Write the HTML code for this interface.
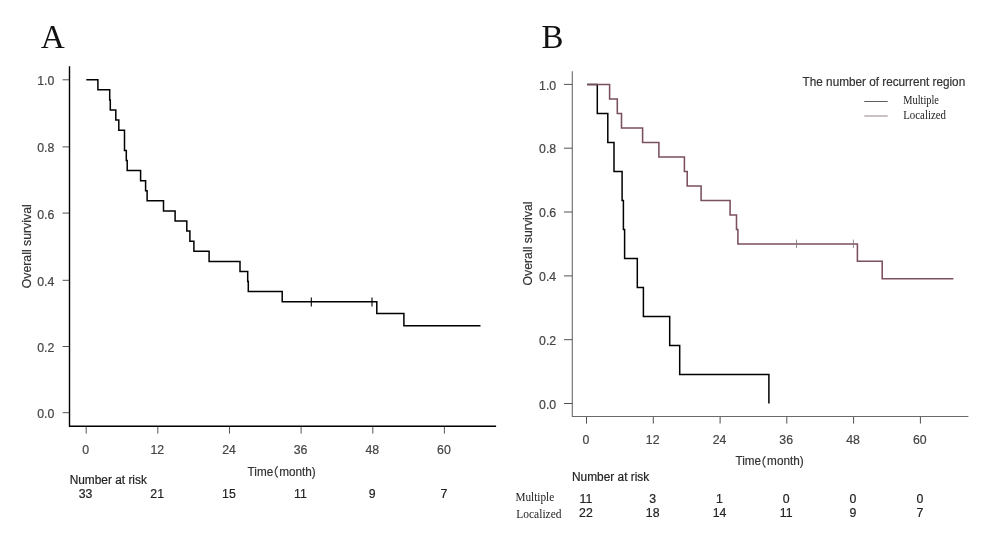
<!DOCTYPE html>
<html lang="en"><head><meta charset="utf-8"><title>Overall survival</title>
<style>
html,body{margin:0;padding:0;background:#fff;}
body{width:986px;height:555px;overflow:hidden;}
svg{display:block;}
.s{font-family:"Liberation Sans",Arial,sans-serif;font-size:12.3px;}
.t{font-family:"Liberation Serif","Times New Roman",serif;}
.g{fill:#444;stroke:#444;stroke-width:0.2px;}
.d{fill:#222;stroke:#222;stroke-width:0.2px;}
.c{font-family:"Liberation Sans","Noto Sans CJK SC",sans-serif;}
.a{fill:#333;stroke:#333;stroke-width:0.2px;}
.m{text-anchor:middle;}
.e{text-anchor:end;}
</style></head><body>
<svg width="986" height="555" viewBox="0 0 986 555">
<rect width="986" height="555" fill="#fff"/>
<text class="t" transform="translate(40.8,48.4) scale(0.965,0.99)" font-size="34.5" fill="#111">A</text>
<g stroke="#555" stroke-width="1" fill="none">
<path d="M62.6,412.7H69.5"/>
<path d="M62.6,346.5H69.5"/>
<path d="M62.6,280.3H69.5"/>
<path d="M62.6,213.1H69.5"/>
<path d="M62.6,146.9H69.5"/>
<path d="M62.6,79.8H69.5"/>
<path d="M86.2,426.2V433.6"/>
<path d="M157.8,426.2V433.6"/>
<path d="M229.5,426.2V433.6"/>
<path d="M301.1,426.2V433.6"/>
<path d="M372.8,426.2V433.6"/>
<path d="M444.4,426.2V433.6"/>
</g>
<path d="M69.5,66.2V426.2H496.1" fill="none" stroke="#000" stroke-width="1.4"/>
<g class="s g e">
<text x="54.4" y="418.2">0.0</text>
<text x="54.4" y="352.0">0.2</text>
<text x="54.4" y="285.8">0.4</text>
<text x="54.4" y="218.6">0.6</text>
<text x="54.4" y="152.4">0.8</text>
<text x="54.4" y="85.3">1.0</text>
</g>
<g class="s g m">
<text x="85.7" y="453.8">0</text>
<text x="157.3" y="453.8">12</text>
<text x="229.0" y="453.8">24</text>
<text x="300.6" y="453.8">36</text>
<text x="372.3" y="453.8">48</text>
<text x="443.9" y="453.8">60</text>
</g>
<text class="s m a" transform="translate(30.6,246.3) rotate(-90)">Overall survival</text>
<text class="c a" font-size="12.3" y="475.6"><tspan x="247.6" textLength="25.6" lengthAdjust="spacingAndGlyphs">Time</tspan><tspan x="266.2" dy="1.6">（</tspan><tspan x="279.2" dy="-1.6" textLength="36.6" lengthAdjust="spacingAndGlyphs">month)</tspan></text>
<path d="M86.3,79.8H97.9V89.8H109.7V99.9H110.3V110.0H115.8V120.1H118.8V130.2H124.5V150.4H126.3V160.5H127.2V170.6H140.6V180.7H145.6V190.7H147.1V200.8H163.5V210.9H175.1V221.0H186.8V231.1H189.9V241.2H193.9V251.3H209.1V261.4H240V271.5H247.7V281.6H248.3V291.6H282.2V301.7H376.8V313.5H403.9V325.8H480.5" fill="none" stroke="#000" stroke-width="1.5"/>
<path d="M311.3,297.5V306.5M372,297.5V306.5" fill="none" stroke="#000" stroke-width="1.1"/>
<text class="s d" x="69.7" y="483.5" textLength="77.2" lengthAdjust="spacingAndGlyphs">Number at risk</text>
<g class="s d m">
<text x="85.6" y="497.8">33</text>
<text x="157.2" y="497.8">21</text>
<text x="228.9" y="497.8">15</text>
<text x="300.5" y="497.8">11</text>
<text x="372.2" y="497.8">9</text>
<text x="443.8" y="497.8">7</text>
</g>
<text class="t" transform="translate(541.6,48.1) scale(0.955,0.99)" font-size="34.5" fill="#111">B</text>
<g stroke="#505050" stroke-width="1" fill="none">
<path d="M564,403.5H572.3"/>
<path d="M564,339.7H572.3"/>
<path d="M564,275.9H572.3"/>
<path d="M564,212.0H572.3"/>
<path d="M564,148.2H572.3"/>
<path d="M564,84.4H572.3"/>
<path d="M586.5,416.5V423.6"/>
<path d="M653.3,416.5V423.6"/>
<path d="M720.1,416.5V423.6"/>
<path d="M786.8,416.5V423.6"/>
<path d="M853.6,416.5V423.6"/>
<path d="M920.4,416.5V423.6"/>
<path d="M572.3,71.3V416.5H968.4" stroke="#6a6a6a" stroke-width="1.1"/>
</g>
<g class="s g e">
<text x="556.2" y="408.7">0.0</text>
<text x="556.2" y="344.9">0.2</text>
<text x="556.2" y="281.1">0.4</text>
<text x="556.2" y="217.2">0.6</text>
<text x="556.2" y="153.4">0.8</text>
<text x="556.2" y="89.6">1.0</text>
</g>
<g class="s g m">
<text x="585.9" y="443.5">0</text>
<text x="652.7" y="443.5">12</text>
<text x="719.5" y="443.5">24</text>
<text x="786.2" y="443.5">36</text>
<text x="853.0" y="443.5">48</text>
<text x="919.8" y="443.5">60</text>
</g>
<text class="s m a" transform="translate(531.6,243.5) rotate(-90)">Overall survival</text>
<text class="c a" font-size="12.3" y="465.2"><tspan x="735.5" textLength="25.6" lengthAdjust="spacingAndGlyphs">Time</tspan><tspan x="754.1" dy="1.6">（</tspan><tspan x="767.1" dy="-1.6" textLength="36.6" lengthAdjust="spacingAndGlyphs">month)</tspan></text>
<path d="M587.2,84.4H597.3V113.4H607.8V142.4H614V171.4H622.1V200.4H623.4V229.4H624.6V258.4H637.3V287.4H643.4V316.4H669.7V345.4H679.7V374.4H768.9V403.4" fill="none" stroke="#000" stroke-width="1.5"/>
<path d="M587.2,84.4H609.6V98.9H617.3V113.4H621.5V127.9H642.6V142.4H658.9V156.9H684.4V171.4H687.2V185.9H701.1V200.4H730.1V214.9H736.5V229.4H737.9V243.9H857.4V261.3H882.2V278.7H953.4" fill="none" stroke="#7a4f60" stroke-width="1.55"/>
<path d="M796.5,239.6V248M853.4,239.6V248" fill="none" stroke="#80707a" stroke-width="0.8"/>
<text class="s a" x="802.6" y="86.2" textLength="162.6" lengthAdjust="spacingAndGlyphs">The number of recurrent region</text>
<path d="M864.3,101.5H887.7" stroke="#333" stroke-width="0.8"/>
<path d="M864.3,116H887.7" stroke="#86787e" stroke-width="0.9"/>
<text class="t" font-size="12.5" fill="#222" x="903.2" y="103.9" textLength="35.8" lengthAdjust="spacingAndGlyphs">Multiple</text>
<text class="t" font-size="12.5" fill="#222" x="903.2" y="118.8" textLength="42.8" lengthAdjust="spacingAndGlyphs">Localized</text>
<text class="s d" x="572" y="480.7" textLength="77.2" lengthAdjust="spacingAndGlyphs">Number at risk</text>
<text class="t" font-size="12.3" fill="#222" x="515.4" y="500.6" textLength="38.8" lengthAdjust="spacingAndGlyphs">Multiple</text>
<text class="t" font-size="12.3" fill="#222" x="516.3" y="517.7" textLength="45.2" lengthAdjust="spacingAndGlyphs">Localized</text>
<g class="s d m">
<text x="585.9" y="502.5">11</text>
<text x="652.7" y="502.5">3</text>
<text x="719.5" y="502.5">1</text>
<text x="786.2" y="502.5">0</text>
<text x="853.0" y="502.5">0</text>
<text x="919.8" y="502.5">0</text>
<text x="585.9" y="516.9">22</text>
<text x="652.7" y="516.9">18</text>
<text x="719.5" y="516.9">14</text>
<text x="786.2" y="516.9">11</text>
<text x="853.0" y="516.9">9</text>
<text x="919.8" y="516.9">7</text>
</g>
</svg>
</body></html>
